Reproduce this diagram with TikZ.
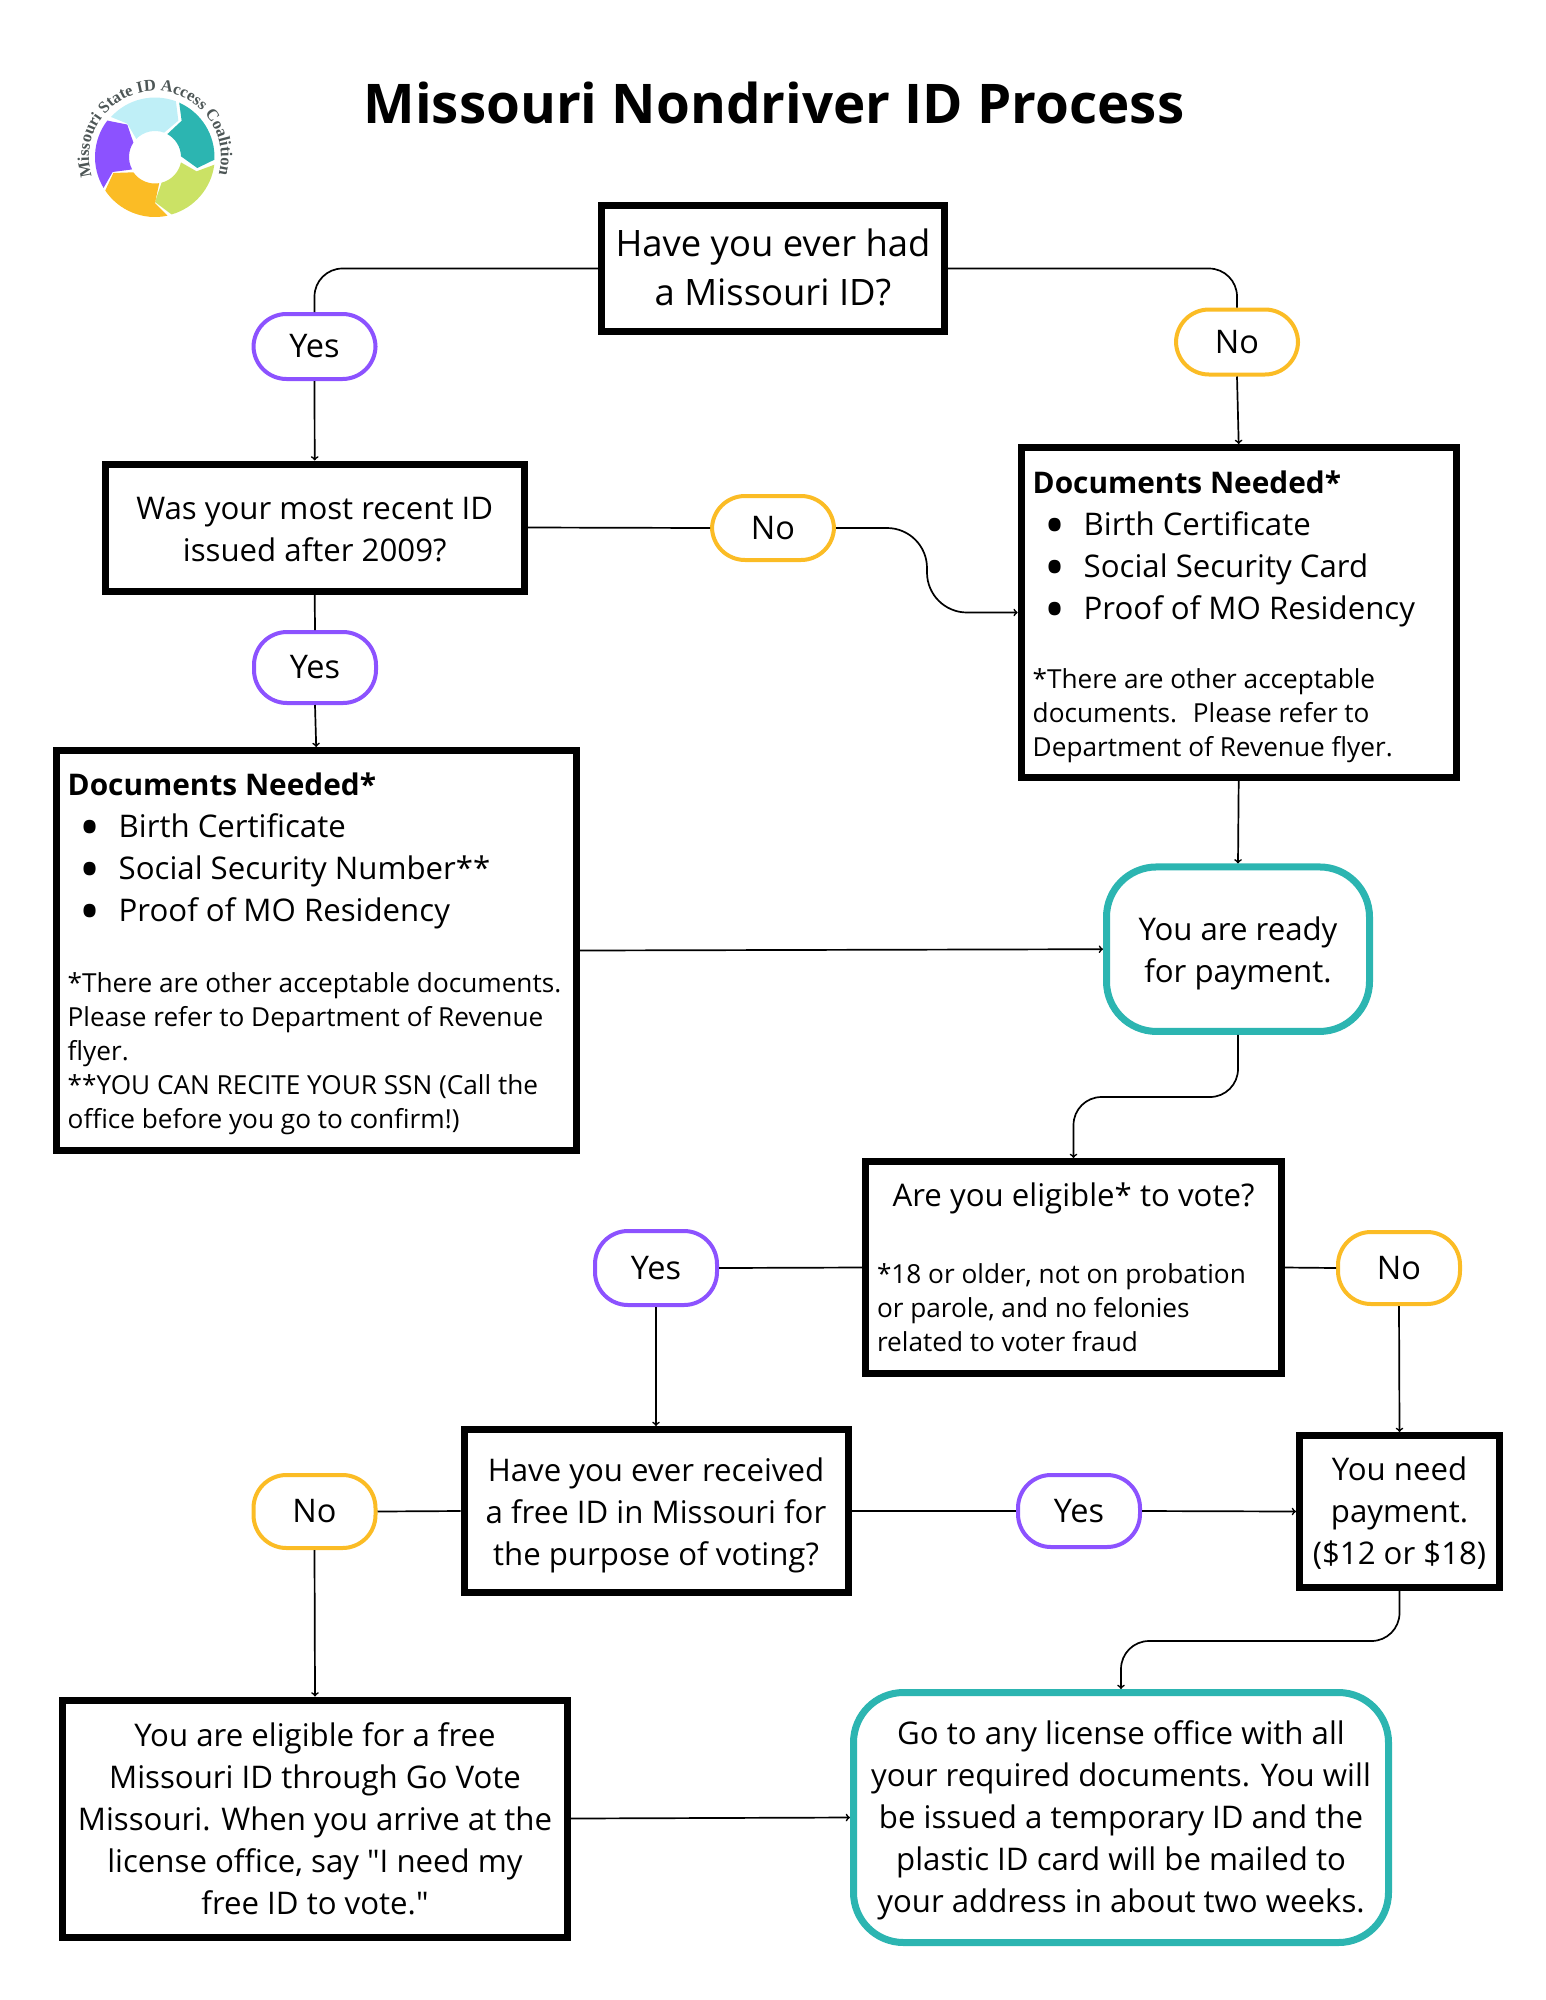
\documentclass[tikz,border=0pt]{standalone}
\usepackage{fontspec}
\setmainfont[Ligatures=TeXOff]{Open Sans}
\newfontfamily\logofont{Liberation Serif}
\usetikzlibrary{decorations.text}
\setlength{\parindent}{0pt}
\definecolor{pillpurple}{HTML}{8C52FF}
\definecolor{pillyellow}{HTML}{FBBC25}
\definecolor{boxteal}{HTML}{2CB5B1}
\definecolor{logoblue}{HTML}{BFEFF7}
\definecolor{logogreen}{HTML}{CBE265}
\definecolor{logotext}{HTML}{4D5656}
\newcommand{\fbig}{\fontsize{36.4}{49}\selectfont}
\newcommand{\fmid}{\fontsize{31.2}{42}\selectfont}
\newcommand{\fhead}{\fontsize{29.8}{42}\selectfont\bfseries}
\newcommand{\fsmall}{\fontsize{26.2}{34}\selectfont}
\newcommand{\bulitem}[1]{\makebox[51pt][l]{\hspace{12pt}\smash{\fontsize{56}{56}\selectfont\raisebox{-10pt}{\textbullet}}}#1\par}
\newcommand{\tallline}[1]{\rule{0pt}{#1}}
\newcommand{\deepline}[1]{\rule[-#1]{0pt}{#1}}
\tikzset{
    qbox/.style={draw,line width=7pt,inner xsep=11.5pt,inner ysep=0pt,fill=white,align=flush left,font=\fmid},
    cbox/.style={qbox,inner xsep=4.5pt,align=flush center},
    tealbox/.style={cbox,draw=boxteal,rounded corners=50pt},
    pill/.style={draw,line width=4pt,rounded corners=33pt,minimum width=122pt,fill=white,font=\fontsize{32.5}{42}\selectfont},
    yespill/.style={pill,draw=pillpurple},
    nopill/.style={pill,draw=pillyellow},
    flow/.style={line width=1.7pt,rounded corners=28pt},
}
\begin{document}
\begin{tikzpicture}[x=1pt,y=-1pt]
    \useasboundingbox (0,0) rectangle (1545,2000);
    \node (title) at (774,103) {\fontsize{54.7}{64}\selectfont\bfseries Missouri Nondriver ID Process};
    %logo
    \begin{scope}[shift={(155,157)},x=1pt,y=1pt]
        \fill[logoblue] (137.7:59.5) arc[start angle=137.7,end angle=69.4,radius=59.5] -- (57.3:43.2) -- (69.4:26) arc[start angle=69.4,end angle=136,radius=26] -- (129.7:43.3) -- cycle;
        \fill[boxteal] (66:59.5) arc[start angle=66,end angle=-2.6,radius=59.5] -- (-14.6:43.7) -- (1.5:26) arc[start angle=1.5,end angle=61.7,radius=26] -- (53.7:45) -- cycle;
        \fill[logogreen] (-7.4:59.8) arc[start angle=-7.4,end angle=-73.9,radius=59.8] -- (-90:45) -- (-75.6:26.5) arc[start angle=-75.6,end angle=-11.7,radius=26.5] -- (-19:44) -- cycle;
        \fill[pillyellow] (-78:60) arc[start angle=-78,end angle=-146,radius=60] -- (201:44.6) -- (215.3:26.5) arc[start angle=215.3,end angle=279.2,radius=26.5] -- (270:46) -- cycle;
        \fill[pillpurple] (211:60) arc[start angle=211,end angle=142.6,radius=60] -- (130.5:42.6) -- (146.3:26) arc[start angle=146.3,end angle=208.5,radius=26] -- (199.5:44.9) -- cycle;
        \path[decorate,decoration={text along path,text align=center,
            text={|\logofont\fontsize{16.5}{18}\selectfont\bfseries\color{logotext}|Missouri State ID Access Coalition}}]
            (195:66) arc[start angle=195,end angle=-13,radius=66];
    \end{scope}
    %questions
    \node[cbox,font=\fbig,text width=334pt,minimum height=126pt] (have) at (773,268.5) {Have you ever had\\a Missouri ID?\deepline{2.6pt}};
    \node[yespill,minimum height=65pt] (yesA) at (314.5,346.5) {Yes};
    \node[nopill,minimum height=65pt] (noA) at (1237,342) {No};
    \node[cbox,text width=410pt,minimum height=127pt] (recent) at (314.7,527.5) {\tallline{26.6pt}Was your most recent ID\\issued after 2009?};
    \node[nopill,minimum height=64pt] (noB) at (773,528) {No};
    \node[qbox,text width=412pt,minimum height=330pt] (docsR) at (1238.7,612.5) {%
        {\fhead\tallline{30.6pt}Documents Needed*\par}
        \bulitem{Birth Certificate}
        \bulitem{Social Security Card}
        \bulitem{Proof of MO Residency}
        \vspace{35pt}
        {\fsmall *There are other acceptable\par documents.~ Please refer to\par Department of Revenue flyer.\par}};
    \node[yespill,minimum height=71pt] (yesB) at (315,667.5) {Yes};
    \node[qbox,text width=497pt,minimum height=400pt] (docsL) at (316.2,950.5) {%
        {\fhead\tallline{30.2pt}Documents Needed*\par}
        \bulitem{Birth Certificate}
        \bulitem{Social Security Number**}
        \bulitem{Proof of MO Residency}
        \vspace{37pt}
        {\fsmall *There are other acceptable documents.\par Please refer to Department of Revenue\par flyer.\par **YOU CAN RECITE YOUR SSN (Call the\par office before you go to confirm!)\par}};
    \node[tealbox,text width=254pt,minimum height=164.5pt] (ready) at (1238,949.2) {\tallline{33pt}You are ready\\for payment.};
    \node[qbox,text width=393pt,minimum height=212pt] (eligible) at (1073.5,1267.5) {%
        {\centering Are you eligible* to vote?\par}
        \vspace{43.5pt}
        {\fsmall *18 or older, not on probation\par or parole, and no felonies\par related to voter fraud\par}};
    \node[yespill,minimum height=74pt] (yesC) at (656,1268) {Yes};
    \node[nopill,minimum height=72pt] (noC) at (1399,1268) {No};
    \node[cbox,text width=191pt,minimum height=152pt] (needpay) at (1399.5,1511.5) {\tallline{27.4pt}You need\\payment.\\(\$12 or \$18)};
    \node[cbox,text width=375pt,minimum height=163pt] (received) at (656,1511) {\tallline{31.6pt}Have you ever received\\a free ID in Missouri for\\the purpose of voting?};
    \node[nopill,minimum height=73pt] (noD) at (314.5,1511.5) {No};
    \node[yespill,minimum height=72pt] (yesD) at (1079,1511) {Yes};
    \node[cbox,text width=496pt,minimum height=237pt] (freeid) at (315,1818.5) {You are eligible for a free\\Missouri ID through Go Vote\\Missouri. When you arrive at the\\license office, say "I need my\\free ID to vote."};
    \node[tealbox,text width=526pt,minimum height=250pt] (golicense) at (1121,1817.5) {\tallline{30.4pt}Go to any license office with all\\your required documents. You will\\be issued a temporary ID and the\\plastic ID card will be mailed to\\your address in about two weeks.};
    %jog points
    \coordinate (jogB) at (927,570);
    \coordinate (jogC) at (1150,1097);
    \coordinate (jogD) at (1250,1641);
    %connectors
    \draw[flow] (have.west) -| (yesA.north);
    \draw[flow,->] (yesA.south) -- (recent.north);
    \draw[flow] (have.east) -| (noA.north);
    \draw[flow,->] (noA.south) -- (docsR.north);
    \draw[flow] (recent.east) -- (noB.west);
    \draw[flow,rounded corners=40pt,->] (noB.east) -| (jogB |- docsR.west) -- (docsR.west);
    \draw[flow] (recent.south) -- (yesB.north);
    \draw[flow,->] (yesB.south) -- (docsL.north);
    \draw[flow,->] (docsL.east) -- (ready.west);
    \draw[flow,->] (docsR.south) -- (ready.north);
    \draw[flow,->] (ready.south) |- (jogC) -| (eligible.north);
    \draw[flow] (eligible.west) -- (yesC.east);
    \draw[flow] (eligible.east) -- (noC.west);
    \draw[flow,->] (yesC.south) -- (received.north);
    \draw[flow,->] (noC.south) -- (needpay.north);
    \draw[flow] (received.east) -- (yesD.west);
    \draw[flow,->] (yesD.east) -- (needpay.west);
    \draw[flow] (received.west) -- (noD.east);
    \draw[flow,->] (noD.south) -- (freeid.north);
    \draw[flow,->] (freeid.east) -- (golicense.west);
    \draw[flow,->] (needpay.south) |- (jogD) -| (golicense.north);
\end{tikzpicture}
\end{document}
